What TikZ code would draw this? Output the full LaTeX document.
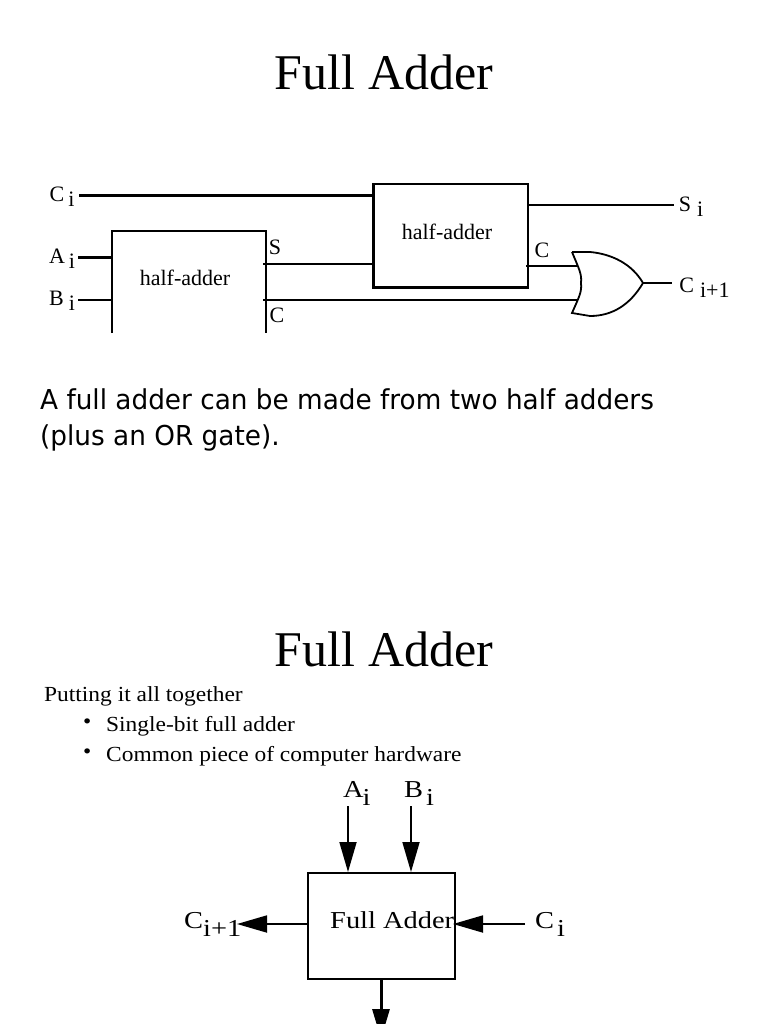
\documentclass[tikz,border=0pt]{standalone}
\usepackage{fontspec}
\setmainfont{Liberation Serif}
\newfontfamily\bodyfont[FakeStretch=0.96]{DejaVu Sans}
\newfontfamily\widefont[FakeStretch=1.09]{Liberation Serif}
\newfontfamily\boxfont[FakeStretch=1.17]{Liberation Serif}
\usetikzlibrary{positioning,arrows.meta}
\newcommand{\sublabel}[3]{#1\hspace{#3}\raisebox{-5pt}{i#2}}
\newcommand{\boxlabel}[3]{#1\hspace{#3}\raisebox{-8pt}{i#2}}
\tikzset{
  titlenode/.style={font=\fontsize{50}{50}\selectfont,anchor=base},
  smallnode/.style={font=\fontsize{22}{22}\selectfont},
  textnode/.style={font=\widefont\fontsize{21.5}{21.5}\selectfont,anchor=base west},
  bodynode/.style={font=\bodyfont\fontsize{27.4}{27.4}\selectfont,anchor=base west},
  boxnode/.style={font=\boxfont\fontsize{24.3}{24.3}\selectfont,anchor=base west},
  wire/.style={line width=1.8pt},
  thickwire/.style={line width=3pt},
  bigarrow/.style={line width=1.8pt,-{Triangle[length=30pt,width=17pt]}},
  addernode/.style={draw,line width=2pt,minimum width=#1}
}
\begin{document}
\begin{tikzpicture}[x=1pt,y=-1pt,inner sep=0pt]
\clip (0,0) rectangle (768,1024);
\node[titlenode] (title1) at (384,90) {Full Adder};
\node[titlenode] (title2) at (384,666) {Full Adder};
\coordinate (ha1sw) at (112,333);
\coordinate (ha1nw) at (112,231);
\coordinate (ha1ne) at (266,231);
\coordinate (ha1se) at (266,333);
\draw[wire] (ha1sw) -- (ha1nw) -- (ha1ne) -- (ha1se);
\node[smallnode] (ha1) at (185,278) {half-adder};
\node[addernode=154pt,minimum height=103pt] (ha2) at (451,235.5) {};
\draw[wire,line width=2.6pt] (ha2.north west) -- (ha2.south west) -- (ha2.south east);
\node[smallnode] (ha2text) at (447,232) {half-adder};
\node[smallnode] (ci) at (62,197) {\sublabel{C}{}{4pt}};
\node[smallnode] (ai) at (62,259) {\sublabel{A}{}{4pt}};
\node[smallnode] (bi) at (62,301) {\sublabel{B}{}{5pt}};
\node[smallnode] (si) at (691,207) {\sublabel{S}{}{6pt}};
\node[smallnode] (cout) at (704.5,288) {\sublabel{C}{+1}{6pt}};
\node[smallnode] (slabel) at (275,247) {S};
\node[smallnode] (clabel) at (277,315) {C};
\node[smallnode] (c2label) at (542,250) {C};
\coordinate (ciend) at (79,196);
\coordinate (aiend) at (78,257);
\coordinate (biend) at (78,300);
\coordinate (siend) at (674,205);
\coordinate (coutend) at (672,283);
\coordinate (or1) at (572,252);
\coordinate (or2) at (590,252);
\coordinate (ortip) at (643,283);
\coordinate (or3) at (590,316);
\coordinate (or4) at (572,313);
\coordinate (orin1) at (578,266);
\coordinate (orin2) at (578,300);
\draw[wire] (or1) -- (or2) .. controls (612,254) and (632,264) .. (ortip)
  .. controls (630,305) and (612,316) .. (or3) -- (or4)
  .. controls (579,297) and (582,292) .. (581,283)
  .. controls (582,274) and (579,269) .. (or1);
\draw[thickwire] (ciend) -- (ciend -| ha2.west);
\draw[thickwire] (aiend) -- (aiend -| ha1nw);
\draw[wire] (biend) -- (biend -| ha1nw);
\draw[wire] (263,264) -- (374,264);
\draw[wire] (263,300) -- (orin2);
\draw[wire] (526,266) -- (orin1);
\draw[wire] (siend -| ha2.east) -- (siend);
\draw[wire] (ortip) -- (coutend);
\node[bodynode] (text1) at (40,409.5) {A full adder can be made from two half adders};
\node[bodynode] (text2) at (40,445) {(plus an OR gate).};
\node[textnode] (put) at (44,701) {Putting it all together};
\node[textnode] (bul1) at (83,728) {\textbullet};
\node[textnode] (bul2) at (83,758) {\textbullet};
\node[textnode] (item1) at (106,731) {Single-bit full adder};
\node[textnode] (item2) at (106,761) {Common piece of computer hardware};
\node[addernode=147pt,minimum height=106pt] (fa) at (381.5,926) {};
\node[boxnode] (fatext) at (330,928) {Full Adder};
\node[boxnode] (faa) at (343,797) {\boxlabel{A}{}{-1pt}};
\node[boxnode] (fab) at (404,797) {\boxlabel{B}{}{3pt}};
\node[boxnode] (fac) at (535,928) {\boxlabel{C}{}{3pt}};
\node[boxnode] (fad) at (184,928) {\boxlabel{C}{+1}{0pt}};
\coordinate (aend) at (348,806);
\coordinate (bend) at (411,806);
\coordinate (cend) at (525,924);
\coordinate (dend) at (307,924);
\coordinate (eend) at (381,1039);
\draw[bigarrow] (aend) -- (aend |- fa.north);
\draw[bigarrow] (bend) -- (bend |- fa.north);
\draw[bigarrow] (cend) -- (453,924);
\draw[bigarrow] (dend) -- (237,924);
\draw[bigarrow,line width=3pt] (eend |- fa.south) -- (eend);
\end{tikzpicture}
\end{document}
